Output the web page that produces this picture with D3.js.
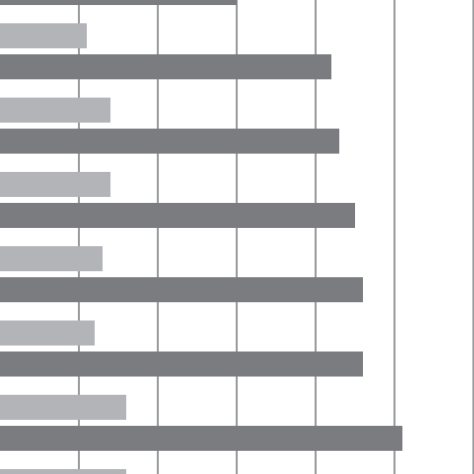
<!DOCTYPE html>
<html>
<head>
<meta charset="utf-8">
<script src="https://cdn.jsdelivr.net/npm/d3@7"></script>
<style>
  html, body { margin: 0; padding: 0; background: #fff; overflow: hidden; }
  svg { display: block; }
</style>
</head>
<body>
<div id="chart"></div>
<script>
// groups, top to bottom (first and last are cut off by the frame)
const groups = ["g0", "g1", "g2", "g3", "g4", "g5", "g6", "g7", "g8"];
const lightValues = [null, 1.1, 1.4, 1.4, 1.3, 1.2, 1.6, 1.6, null];
const darkValues = [3.0, 4.2, 4.3, 4.5, 4.6, 4.6, 5.1, null, null];
const gridTicks = [1, 2, 3, 4, 5, 6];

function drawChart() {
    const width = 474;
    const height = 474;

    const svg = d3.select("#chart").append("svg")
        .attr("width", width)
        .attr("height", height);

    const x = d3.scaleLinear()
        .domain([0, 6])
        .range([0, 473.4]);

    // group bands, the first one starts above the frame
    const step = 74.3;
    const y = d3.scaleBand()
        .domain(groups)
        .paddingInner(0.246)
        .paddingOuter(0)
        .align(0)
        .range([-51, -51 + step * (groups.length - 0.246)]);

    const inner = d3.scaleBand()
        .domain(["light", "dark"])
        .paddingInner(0.1935)
        .paddingOuter(0)
        .range([0, y.bandwidth()]);

    // vertical grid lines, behind the bars
    svg.append("g")
        .selectAll("line")
        .data(gridTicks)
        .enter()
        .append("line")
        .attr("x1", (d) => x(d))
        .attr("x2", (d) => x(d))
        .attr("y1", 0)
        .attr("y2", height)
        .attr("stroke", "#9a9b9d")
        .attr("stroke-width", 2);

    const rows = groups.map((g, i) => ({ group: g, light: lightValues[i], dark: darkValues[i] }));

    const bars = [];
    rows.forEach((r) => {
        if (r.light != null) bars.push({ group: r.group, key: "light", value: r.light });
        if (r.dark != null) bars.push({ group: r.group, key: "dark", value: r.dark });
    });

    const colors = { light: "#b3b4b7", dark: "#7b7c80" };

    svg.append("g")
        .selectAll("rect")
        .data(bars)
        .enter()
        .append("rect")
        .attr("x", x(0))
        .attr("y", (d) => y(d.group) + inner(d.key))
        .attr("width", (d) => x(d.value) - x(0))
        .attr("height", inner.bandwidth())
        .attr("fill", (d) => colors[d.key]);
}

drawChart();
</script>
</body>
</html>
